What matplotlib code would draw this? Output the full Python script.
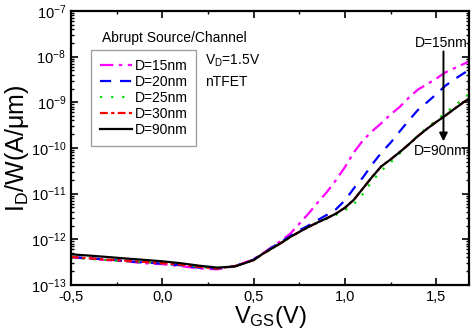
import numpy as np
import matplotlib
matplotlib.use("Agg")
import matplotlib.pyplot as plt
from matplotlib.ticker import MultipleLocator, FuncFormatter, LogLocator, NullFormatter

plt.rcParams['font.family'] = ['Liberation Sans', 'DejaVu Sans']
plt.rcParams['mathtext.fontset'] = 'custom'
plt.rcParams['mathtext.rm'] = 'Liberation Sans'
plt.rcParams['mathtext.it'] = 'Liberation Sans:italic'

# gate voltage (V)
vgs = [-0.5, -0.4, -0.3, -0.2, -0.1, 0.0, 0.1, 0.2, 0.3, 0.4,
       0.5, 0.55, 0.6, 0.65, 0.7, 0.75, 0.8, 0.85, 0.9, 0.95,
       1.0, 1.05, 1.1, 1.15, 1.2, 1.25, 1.3, 1.35, 1.4, 1.45,
       1.5, 1.55, 1.6, 1.65, 1.7]

# I_D/W (A/um)
d15 = [4.0e-13, 3.8e-13, 3.5e-13, 3.3e-13, 3.0e-13, 2.85e-13, 2.6e-13, 2.3e-13, 2.2e-13, 2.6e-13,
       3.7e-13, 4.9e-13, 6.8e-13, 9.3e-13, 1.32e-12, 2.19e-12, 3.63e-12, 6.3e-12, 1.07e-11, 1.95e-11,
       3.8e-11, 8.1e-11, 1.48e-10, 2.34e-10, 3.5e-10, 5.4e-10, 7.9e-10, 1.26e-9, 1.9e-9, 2.5e-9,
       3.3e-9, 4.5e-9, 5.6e-9, 6.9e-9, 8.5e-9]
d20 = [4.1e-13, 3.85e-13, 3.6e-13, 3.35e-13, 3.1e-13, 2.95e-13, 2.7e-13, 2.4e-13, 2.3e-13, 2.6e-13,
       3.6e-13, 4.8e-13, 6.6e-13, 8.9e-13, 1.17e-12, 1.58e-12, 2.0e-12, 2.63e-12, 3.4e-12, 4.5e-12,
       7.1e-12, 1.32e-11, 2.3e-11, 4.4e-11, 7.9e-11, 1.3e-10, 2.3e-10, 4.0e-10, 6.8e-10, 1.0e-9,
       1.5e-9, 2.3e-9, 3.2e-9, 4.3e-9, 5.75e-9]
d25 = [3.9e-13, 3.7e-13, 3.5e-13, 3.3e-13, 3.15e-13, 3.0e-13, 2.75e-13, 2.5e-13, 2.3e-13, 2.6e-13,
       3.5e-13, 4.7e-13, 6.2e-13, 8.2e-13, 1.1e-12, 1.45e-12, 1.85e-12, 2.3e-12, 2.8e-12, 3.4e-12,
       4.3e-12, 6.0e-12, 1.0e-11, 1.9e-11, 3.2e-11, 4.8e-11, 7.6e-11, 1.2e-10, 1.85e-10, 2.8e-10,
       4.0e-10, 5.8e-10, 8.3e-10, 1.2e-9, 1.8e-9]
d30 = [4.1e-13, 3.85e-13, 3.6e-13, 3.4e-13, 3.2e-13, 3.0e-13, 2.8e-13, 2.5e-13, 2.3e-13, 2.6e-13,
       3.5e-13, 4.8e-13, 6.3e-13, 8.3e-13, 1.12e-12, 1.45e-12, 1.86e-12, 2.34e-12, 2.88e-12, 3.63e-12,
       4.9e-12, 7.4e-12, 1.32e-11, 2.34e-11, 3.98e-11, 5.6e-11, 8.1e-11, 1.2e-10, 1.82e-10, 2.63e-10,
       3.7e-10, 5.1e-10, 7.2e-10, 1.0e-9, 1.38e-9]
d90 = [4.7e-13, 4.4e-13, 4.1e-13, 3.8e-13, 3.55e-13, 3.3e-13, 3.0e-13, 2.65e-13, 2.4e-13, 2.55e-13,
       3.5e-13, 4.8e-13, 6.3e-13, 8.3e-13, 1.12e-12, 1.45e-12, 1.86e-12, 2.34e-12, 2.88e-12, 3.63e-12,
       4.9e-12, 7.4e-12, 1.32e-11, 2.34e-11, 3.98e-11, 5.6e-11, 8.1e-11, 1.2e-10, 1.82e-10, 2.63e-10,
       3.7e-10, 5.1e-10, 7.2e-10, 1.0e-9, 1.38e-9]

labels = ["D=15nm", "D=20nm", "D=25nm", "D=30nm", "D=90nm"]

fig = plt.figure(figsize=(4.74, 3.32), dpi=100)
ax = fig.add_axes([0.1498, 0.1416, 0.8397, 0.8253])

lw = 1.6
ax.plot(vgs, d15, color='#ff00ff', lw=lw, dashes=(6, 2.5, 1.5, 2.5), label=labels[0])
ax.plot(vgs, d20, color='#0000ff', lw=lw, dashes=(5, 4), label=labels[1])
ax.plot(vgs, d25, color='#00dd00', lw=lw, dashes=(1, 4), label=labels[2])
ax.plot(vgs, d30, color='#ff0000', lw=lw, dashes=(3.5, 1.5, 1.5, 1.5), label=labels[3])
ax.plot(vgs, d90, color='black', lw=lw, label=labels[4])

ax.set_yscale('log')
ax.set_xlim(-0.5, 1.68)
ax.set_ylim(1e-13, 1e-7)

ax.xaxis.set_major_locator(MultipleLocator(0.5))
ax.xaxis.set_minor_locator(MultipleLocator(0.25))
ax.xaxis.set_major_formatter(FuncFormatter(lambda x, p: f"{x:.1f}".replace('.', ',')))
ax.yaxis.set_major_locator(LogLocator(base=10, numticks=20))
ax.yaxis.set_minor_locator(LogLocator(base=10, subs=np.arange(2, 10), numticks=20))
ax.yaxis.set_minor_formatter(NullFormatter())
ax.yaxis.set_major_formatter(FuncFormatter(
    lambda y, p: r"10$^{\mathregular{%d}}$" % round(np.log10(y))))

ax.tick_params(which='both', direction='in', top=True, right=True, labelsize=10.5)
ax.tick_params(which='major', length=5, width=1.2)
ax.tick_params(which='minor', length=2.5, width=1)
for s in ax.spines.values():
    s.set_linewidth(1.6)

ax.set_xlabel(r"V$_{\mathregular{GS}}$(V)", fontsize=17, labelpad=0)
ax.set_ylabel(r"I$_{\mathregular{D}}$/W(A/μm)", fontsize=18, labelpad=0)

leg = ax.legend(loc='upper left', bbox_to_anchor=(0.0495, 0.858), fontsize=10,
                frameon=True, fancybox=False, edgecolor='#888888',
                handlelength=2.3, handletextpad=0.2, labelspacing=0.15,
                borderpad=0.65, borderaxespad=0)
leg.get_frame().set_linewidth(1.0)

ax.text(0.078, 0.90, "Abrupt Source/Channel", transform=ax.transAxes,
        fontsize=10, va='center', ha='left')
ax.text(0.337, 0.818, r"V$_{\mathregular{D}}$=1.5V", transform=ax.transAxes,
        fontsize=10, va='center', ha='left')
ax.text(0.337, 0.742, "nTFET", transform=ax.transAxes,
        fontsize=10, va='center', ha='left')

ax.text(1.53, 2.0e-8, "D=15nm", fontsize=10, ha='center', va='center')
ax.text(1.52, 8.5e-11, "D=90nm", fontsize=10, ha='center', va='center')
ax.annotate("", xy=(1.54, 1.4e-10), xytext=(1.54, 1.3e-8),
            arrowprops=dict(arrowstyle='-|>', color='black', lw=1.4,
                            mutation_scale=12, shrinkA=0, shrinkB=0))

fig.savefig("out.png", dpi=100)
